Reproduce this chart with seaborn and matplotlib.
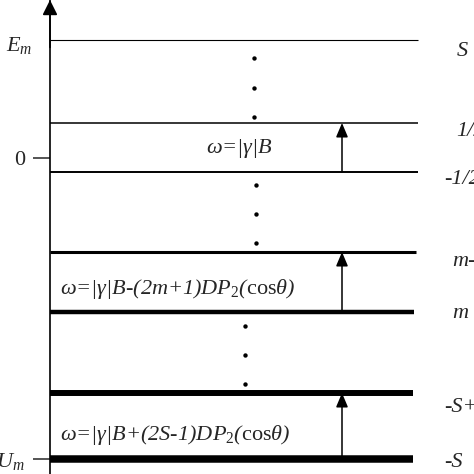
import numpy as np
import pandas as pd
import matplotlib
matplotlib.use('Agg')
import matplotlib.pyplot as plt
import seaborn as sns

# Energy levels (arbitrary units, 0 at the "0" tick)
level_names = ['S', '1/2', '-1/2', 'm-1', 'm', '-S+1', '-S']
level_E = [1.18, 0.35, -0.14, -0.94, -1.54, -2.35, -3.01]

# transitions drawn as arrows: (from level, to level)
arrow_from = ['-1/2', 'm', '-S']
arrow_to = ['1/2', 'm-1', '-S+1']
arrow_labels = [
    r'$\omega$=|$\gamma$|$B$',
    r'$\omega$=|$\gamma$|$B$-(2$m$+1)$DP_{\mathsf{2}}$($\mathsf{cos}\theta$)',
    r'$\omega$=|$\gamma$|$B$+(2$S$-1)$DP_{\mathsf{2}}$($\mathsf{cos}\theta$)',
]

# ellipsis dots between levels
dot_x = [254, 254, 254, 256, 256, 256, 245, 245, 245]
dot_E = [1.00, 0.70, 0.41, -0.27, -0.56, -0.85, -1.68, -1.97, -2.26]

tick_E = [0, -3.01]
tick_labels = ['0', '$U_m$']

# styles / layout (pixel units on x)
level_lw = [0.8, 1.1, 1.4, 2.2, 3.2, 4.3, 5.4]
level_xend = [418, 418, 418, 416, 414, 413, 413]
label_x = [457, 456, 444, 452, 452, 444, 444]
label_dy = [-0.12, -0.08, -0.07, -0.10, -0.01, -0.14, -0.04]
arrow_x = 342
arrow_text_pos = [(206, 0.10), (60, -1.31), (60, -2.77)]

sns.set_style('white')
plt.rcParams['font.family'] = ['Liberation Serif', 'DejaVu Serif']
plt.rcParams['mathtext.fontset'] = 'custom'
plt.rcParams['mathtext.rm'] = 'Liberation Serif:italic'
plt.rcParams['mathtext.it'] = 'Liberation Serif:italic'
plt.rcParams['mathtext.sf'] = 'Liberation Serif'

fig = plt.figure(figsize=(4.74, 4.74), dpi=100)
ax = fig.add_axes([50 / 474, 0, 424 / 474, 1])

# build a long table of level segments for seaborn
rows = []
for name, e, xe in zip(level_names, level_E, level_xend):
    rows.append({'level': name, 'x': 50, 'E': e})
    rows.append({'level': name, 'x': xe, 'E': e})
df = pd.DataFrame(rows)

sns.lineplot(data=df, x='x', y='E', units='level', estimator=None,
             size='level', sizes=dict(zip(level_names, level_lw)),
             color='black', legend=False, ax=ax, solid_capstyle='butt')

sns.scatterplot(x=dot_x, y=dot_E, color='black', s=10, linewidth=0, ax=ax)

E_of = dict(zip(level_names, level_E))
for src, dst, txt, (tx, ty) in zip(arrow_from, arrow_to, arrow_labels, arrow_text_pos):
    ax.annotate('', xy=(arrow_x, E_of[dst]), xytext=(arrow_x, E_of[src]),
                arrowprops=dict(arrowstyle='-|>,head_length=0.85,head_width=0.36',
                                mutation_scale=10, color='black', lw=1.1,
                                shrinkA=0, shrinkB=0))
    ax.text(tx, ty, txt, fontsize=16, fontstyle='italic', ha='left', va='center')

for name, e, lx, dy in zip(level_names, level_E, label_x, label_dy):
    ax.text(lx, e + dy, name, fontsize=16, fontstyle='italic', ha='left', va='center')

# vertical energy axis
ax.set_xlim(50, 474)
ax.set_ylim(-3.16, 1.58)
ax.set_xticks([])
ax.set_yticks(tick_E)
ax.set_yticklabels(tick_labels)
ax.tick_params(axis='y', length=12, width=1.1, pad=6, labelsize=16, left=True)
for side in ['top', 'right', 'bottom']:
    ax.spines[side].set_visible(False)
ax.spines['left'].set_linewidth(1.2)
ax.spines['left'].set_color('black')
ax.set_xlabel('')
ax.set_ylabel('')
ax.annotate('', xy=(0, 1), xycoords='axes fraction', xytext=(0, 0.9),
            arrowprops=dict(arrowstyle='-|>,head_length=0.9,head_width=0.45',
                            mutation_scale=10, color='black', lw=1.2,
                            shrinkA=0, shrinkB=0), annotation_clip=False)
ax.text(6, 1.13, '$E_m$', fontsize=16, ha='left', va='center')

fig.savefig('out.png', dpi=100)
